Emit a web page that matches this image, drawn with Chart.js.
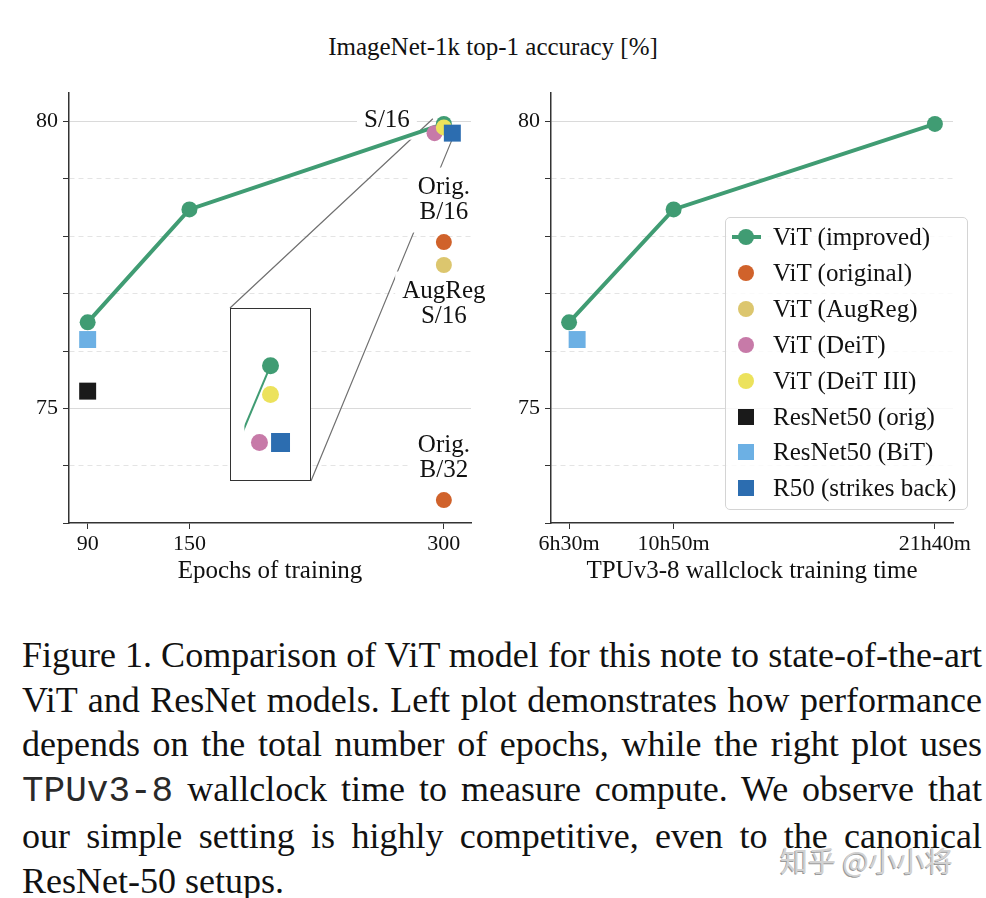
<!DOCTYPE html>
<html>
<head>
<meta charset="utf-8">
<script src="https://cdn.jsdelivr.net/npm/chart.js@4.4.1/dist/chart.umd.min.js"></script>
<style>
  body { margin: 0; background: #fff; width: 986px; height: 898px; position: relative; overflow: hidden;
         font-family: 'Liberation Serif', 'Times New Roman', serif; color: #111; }
  .abs { position: absolute; }
  #title { left: 0; top: 32px; width: 986px; text-align: center; font-size: 25px; line-height: 30px; }
  #leftWrap { left: 0; top: 80px; width: 490px; height: 520px; }
  #rightWrap { left: 490px; top: 80px; width: 496px; height: 520px; }
  #insetWrap { left: 230px; top: 308px; width: 81px; height: 173px; border: 1.5px solid #333;
               box-sizing: border-box; background: #fff; }
  #legend { left: 725px; top: 217px; width: 243px; height: 293px; border: 1px solid #d4d4d4;
            border-radius: 5px; background: rgba(255,255,255,0.8); box-sizing: border-box; }
  #legend .row { position: absolute; left: 0; height: 30px; width: 240px; }
  #legend .txt { position: absolute; left: 47px; top: 0; line-height: 30px; font-size: 25px; white-space: nowrap; }
  #legend .mk { position: absolute; }
  #caption { left: 22px; top: 633px; width: 960px; font-size: 36px; line-height: 44.6px; }
  #caption .ln { display: block; white-space: nowrap; }
  #caption .ln span.in { display: inline-block; white-space: nowrap; }
  .mono { font-family: 'Liberation Mono', 'DejaVu Sans Mono', monospace; color: #2a2a2a; }
  #mark { left: 780px; top: 840px; font-family: 'Noto Sans CJK SC', sans-serif; font-size: 28px;
          color: #d2d2d2; text-shadow: -1px 1px 0 #9a9a9a; white-space: nowrap; }
</style>
</head>
<body>
<div id="title" class="abs">ImageNet-1k top-1 accuracy [%]</div>
<div id="leftWrap" class="abs"><canvas id="left"></canvas></div>
<div id="rightWrap" class="abs"><canvas id="right"></canvas></div>
<div id="insetWrap" class="abs"><canvas id="inset"></canvas></div>
<div id="legend" class="abs"></div>
<div id="caption" class="abs">
  <div class="ln"><span class="in">Figure 1. Comparison of ViT model for this note to state-of-the-art</span></div>
  <div class="ln"><span class="in">ViT and ResNet models. Left plot demonstrates how performance</span></div>
  <div class="ln"><span class="in">depends on the total number of epochs, while the right plot uses</span></div>
  <div class="ln"><span class="in"><span class="mono">TPUv3-8</span> wallclock time to measure compute. We observe that</span></div>
  <div class="ln"><span class="in">our simple setting is highly competitive, even to the canonical</span></div>
  <div class="ln last"><span class="in">ResNet-50 setups.</span></div>
</div>
<div id="mark" class="abs">知乎 @小小将</div>

<script>
// ---- data ----
const seriesNames = ['ViT (improved)', 'ViT (original)', 'ViT (AugReg)', 'ViT (DeiT)',
                     'ViT (DeiT III)', 'ResNet50 (orig)', 'ResNet50 (BiT)', 'R50 (strikes back)'];
const epochTicks = [90, 150, 300];
const timeTickMinutes = [390, 650, 1300];
const timeTickLabels = ['6h30m', '10h50m', '21h40m'];
const accLabelTicks = [75, 80];

const improvedEpochs = [90, 150, 300];
const improvedMinutes = [390, 650, 1300];
const improvedAcc = [76.5, 78.47, 79.96];
const originalEpochs = [300, 300];
const originalAcc = [77.9, 73.4];
const augregEpochs = [300];
const augregAcc = [77.5];
const deitEpochs = [294.5];
const deitAcc = [79.8];
const deit3Epochs = [300];
const deit3Acc = [79.9];
const resnetOrigEpochs = [90];
const resnetOrigAcc = [75.3];
const bitEpochs = [90];
const bitMinutes = [410];
const bitAcc = [76.2];
const strikesEpochs = [305];
const strikesAcc = [79.8];

// ---- styles ----
const colors = ['#409c73', '#d0622b', '#dcc66e', '#c77aa8', '#ece25c', '#1a1a1a', '#6cb0e4', '#2c6db0'];
const shapes = ['line', 'circle', 'circle', 'circle', 'circle', 'rect', 'rect', 'rect'];
const zOrder = [3, 4, 4, 2, 1, 4, 4, 0];
const SERIF = "'Liberation Serif', 'Times New Roman', serif";

Chart.defaults.font.family = SERIF;
Chart.defaults.color = '#111';

const pts = (xs, ys) => xs.map((x, i) => ({ x: x, y: ys[i] }));

function ds(i, data, big) {
  const isRect = shapes[i] === 'rect';
  const r = isRect ? (big ? 13.4 : 12) : (big ? 8.5 : 8);
  return {
    label: seriesNames[i],
    data: data,
    order: zOrder[i],
    showLine: shapes[i] === 'line',
    borderColor: colors[i],
    borderWidth: big ? 2 : 4,
    pointStyle: isRect ? 'rect' : 'circle',
    pointRadius: r,
    pointHoverRadius: r,
    pointBackgroundColor: colors[i],
    pointBorderWidth: 0
  };
}

function yAxis(width) {
  return {
    type: 'linear', min: 73, max: 80.5,
    afterFit: s => { s.width = width; s.paddingTop = 0; s.paddingBottom = 0; },
    ticks: {
      stepSize: 1, includeBounds: false, padding: 5, font: { size: 22 },
      callback: v => accLabelTicks.includes(v) ? String(v) : ''
    },
    grid: {
      color: c => {
        if (!c.tick) return '#ddd';
        if (c.tick.value === 73) return 'rgba(0,0,0,0)';
        return c.tick.value % 5 === 0 ? '#dadada' : '#e4e4e4';
      },
      lineWidth: 1, tickLength: 6, tickColor: '#333'
    },
    border: {
      color: '#333', width: 1.5,
      dash: c => (c.tick && c.tick.value % 5 !== 0) ? [5, 4] : []
    }
  };
}

function xAxis(min, max, tickValues, label, titleText) {
  return {
    type: 'linear', min: min, max: max,
    afterBuildTicks: s => { s.ticks = tickValues.map(v => ({ value: v })); },
    afterFit: s => { s.height = 77; },
    ticks: { padding: 2, autoSkip: false, maxRotation: 0, font: { size: 22 },
             callback: (v, i) => label(v, i) },
    grid: { drawOnChartArea: false, tickLength: 6, tickColor: '#333' },
    border: { color: '#333', width: 1.5 },
    title: { display: true, text: titleText, font: { size: 25 }, padding: { top: 0, bottom: 14 } }
  };
}

const baseOpts = {
  responsive: true, maintainAspectRatio: false, animation: false, events: [],
  plugins: { legend: { display: false }, tooltip: { enabled: false } }
};

// zoomed region on the left plot, shown in the inset box
const regionEpochs = [293.5, 305];
const regionAcc = [79.7, 80.05];

// text labels attached to points: [series, point index, lines, dx, dy, align]
const annotations = [
  { series: 0, index: 2, lines: ['S/16'], dx: -34, dy: -4, align: 'right' },
  { series: 1, index: 0, lines: ['Orig.', 'B/16'], dx: 0, dy: -42, align: 'center' },
  { series: 2, index: 0, lines: ['AugReg', 'S/16'], dx: 0, dy: 39, align: 'center' },
  { series: 1, index: 1, lines: ['Orig.', 'B/32'], dx: 0, dy: -42, align: 'center' }
];

const leftDecor = {
  id: 'leftDecor',
  beforeDatasetsDraw(chart) {
    const { ctx, scales: { x, y } } = chart;
    const cRect = chart.canvas.getBoundingClientRect();
    const iRect = document.getElementById('insetWrap').getBoundingClientRect();
    const il = iRect.left - cRect.left, it = iRect.top - cRect.top;
    const ir = iRect.right - cRect.left, ib = iRect.bottom - cRect.top;
    ctx.save();
    ctx.strokeStyle = '#707070';
    ctx.lineWidth = 1.2;
    ctx.beginPath();
    ctx.moveTo(il, it);
    ctx.lineTo(x.getPixelForValue(regionEpochs[0]), y.getPixelForValue(regionAcc[1]));
    ctx.moveTo(ir, ib);
    ctx.lineTo(x.getPixelForValue(regionEpochs[1]), y.getPixelForValue(regionAcc[0]));
    ctx.stroke();

    ctx.font = '25px ' + SERIF;
    ctx.textBaseline = 'middle';
    const lh = 25.5, pad = 7;
    annotations.forEach(a => {
      const p = chart.data.datasets[a.series].data[a.index];
      const px = x.getPixelForValue(p.x) + a.dx;
      const py = y.getPixelForValue(p.y) + a.dy;
      const w = Math.max(...a.lines.map(t => ctx.measureText(t).width));
      const h = a.lines.length * lh;
      const left = a.align === 'right' ? px - w : px - w / 2;
      ctx.fillStyle = '#fff';
      ctx.fillRect(left - pad, py - h / 2 - pad, w + 2 * pad, h + 2 * pad);
      ctx.fillStyle = '#111';
      ctx.textAlign = a.align;
      a.lines.forEach((t, k) => ctx.fillText(t, px, py - h / 2 + lh * (k + 0.5)));
    });
    ctx.restore();
  }
};

new Chart(document.getElementById('left'), {
  type: 'scatter',
  data: {
    datasets: [
      ds(0, pts(improvedEpochs, improvedAcc)),
      ds(1, pts(originalEpochs, originalAcc)),
      ds(2, pts(augregEpochs, augregAcc)),
      ds(3, pts(deitEpochs, deitAcc)),
      ds(4, pts(deit3Epochs, deit3Acc)),
      ds(5, pts(resnetOrigEpochs, resnetOrigAcc)),
      ds(6, pts(bitEpochs, bitAcc)),
      ds(7, pts(strikesEpochs, strikesAcc))
    ]
  },
  options: Object.assign({}, baseOpts, {
    layout: { padding: { top: 13, right: 19, left: 0, bottom: 0 } },
    scales: {
      x: xAxis(79, 316, epochTicks, v => String(v), 'Epochs of training'),
      y: yAxis(69)
    }
  }),
  plugins: [leftDecor]
});

new Chart(document.getElementById('right'), {
  type: 'scatter',
  data: {
    datasets: [
      ds(0, pts(improvedMinutes, improvedAcc)),
      ds(6, pts(bitMinutes, bitAcc))
    ]
  },
  options: Object.assign({}, baseOpts, {
    layout: { padding: { top: 13, right: 33, left: 0, bottom: 0 } },
    scales: {
      x: xAxis(345, 1345, timeTickMinutes, (v, i) => timeTickLabels[timeTickMinutes.indexOf(v)],
               'TPUv3-8 wallclock training time'),
      y: yAxis(61)
    }
  })
});

// inset: magnified view of the cluster at 300 epochs
new Chart(document.getElementById('inset'), {
  type: 'scatter',
  data: {
    datasets: [
      ds(0, pts(improvedEpochs, improvedAcc), true),
      ds(3, pts(deitEpochs, deitAcc), true),
      ds(4, pts(deit3Epochs, deit3Acc), true),
      ds(7, pts(strikesEpochs, strikesAcc), true)
    ]
  },
  options: Object.assign({}, baseOpts, {
    layout: { padding: 0 },
    scales: {
      x: { display: false, min: 287, max: 313 },
      y: { display: false, min: 79.75, max: 80.05 }
    }
  })
});

// legend (right plot)
const legend = document.getElementById('legend');
seriesNames.forEach((name, i) => {
  const row = document.createElement('div');
  row.className = 'row';
  row.style.top = (4 + i * 35.9) + 'px';
  if (shapes[i] === 'line') {
    const ln = document.createElement('div');
    ln.className = 'mk';
    Object.assign(ln.style, { left: '6px', top: '13px', width: '29px', height: '4px', background: colors[i] });
    row.appendChild(ln);
  }
  const mk = document.createElement('div');
  mk.className = 'mk';
  const size = 16;
  Object.assign(mk.style, {
    left: (20 - size / 2) + 'px', top: (15 - size / 2) + 'px', width: size + 'px', height: size + 'px',
    background: colors[i], borderRadius: shapes[i] === 'rect' ? '0' : '50%'
  });
  row.appendChild(mk);
  const t = document.createElement('div');
  t.className = 'txt';
  t.textContent = name;
  row.appendChild(t);
  legend.appendChild(row);
});

// justify caption lines to the full width
document.querySelectorAll('#caption .ln').forEach(ln => {
  if (ln.classList.contains('last')) return;
  const span = ln.querySelector('span.in');
  const w = span.getBoundingClientRect().width;
  const gaps = (span.textContent.match(/ /g) || []).length;
  if (gaps) span.style.wordSpacing = ((960 - w) / gaps) + 'px';
});
</script>
</body>
</html>
